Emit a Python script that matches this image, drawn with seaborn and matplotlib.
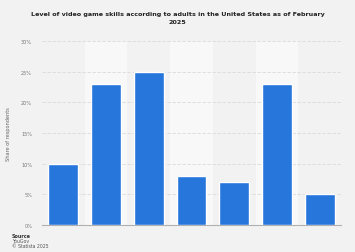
import matplotlib
matplotlib.use("Agg")
import matplotlib.pyplot as plt
import seaborn as sns
import pandas as pd

categories = ["Very good", "Good", "Average", "Below average", "Poor",
              "I don't play video games", "Don't know"]
shares = [10, 23, 25, 8, 7, 23, 5]
yticks = [0, 5, 10, 15, 20, 25, 30]
ytick_labels = ["0%", "5%", "10%", "15%", "20%", "25%", "30%"]

df = pd.DataFrame({"category": categories, "share": shares})

sns.set_theme(style="white")
plt.rcParams['font.family'] = ['DejaVu Sans']

bg = "#f2f2f2"
fig = plt.figure(figsize=(3.55, 2.53), dpi=100, facecolor=bg)
ax = fig.add_axes([0.118, 0.107, 0.843, 0.727])
ax.set_facecolor(bg)

for i in range(len(categories)):
    if i % 2 == 1:
        ax.axvspan(i - 0.5, i + 0.5, color="#f8f8f8", zorder=0, lw=0)

sns.barplot(data=df, x="category", y="share", color="#2776db", width=0.7,
            saturation=1, ax=ax, zorder=3)

ax.set_xlim(-0.5, len(categories) - 0.5)
ax.set_ylim(0, 30)
ax.set_yticks(yticks)
ax.set_yticklabels(ytick_labels, fontsize=3.6, color="#777777")
ax.set_xticks([])
ax.set_xlabel("")
ax.set_ylabel("Share of respondents", fontsize=3.6, color="#666666", labelpad=7)
ax.tick_params(axis="y", length=0, pad=7)
ax.yaxis.grid(True, color="#dadada", linestyle=(0, (4, 2)), linewidth=0.6, zorder=1)
ax.set_axisbelow(True)
for s in ["top", "right", "left"]:
    ax.spines[s].set_visible(False)
ax.spines["bottom"].set_color("#b0b0b0")
ax.spines["bottom"].set_linewidth(0.8)

fig.text(0.5, 0.927, "Level of video game skills according to adults in the United States as of February\n2025",
         ha="center", va="center", fontsize=4.6, fontweight="semibold", color="#222222", linespacing=1.75)

fig.text(0.034, 0.067, "Source", fontsize=3.5, fontweight="bold", color="#333333", va="center")
fig.text(0.034, 0.047, "YouGov", fontsize=3.3, color="#555555", va="center")
fig.text(0.034, 0.024, "© Statista 2025", fontsize=3.3, color="#555555", va="center")

fig.savefig("out.png", dpi=100, facecolor=bg)
